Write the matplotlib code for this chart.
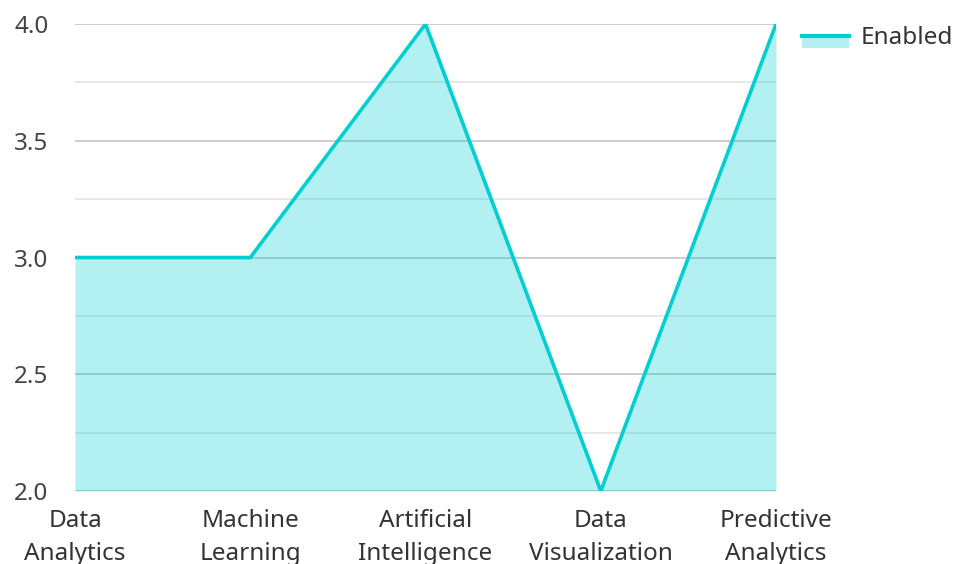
import matplotlib
matplotlib.use("Agg")
import matplotlib.pyplot as plt
from matplotlib.lines import Line2D
from matplotlib.patches import Rectangle
from matplotlib.legend_handler import HandlerBase
from matplotlib.ticker import MultipleLocator

plt.rcParams['font.family'] = ['Noto Sans', 'DejaVu Sans']

categories = ["Data\nAnalytics", "Machine\nLearning", "Artificial\nIntelligence",
              "Data\nVisualization", "Predictive\nAnalytics"]
enabled = [3, 3, 4, 2, 4]

line_color = "#00CED1"
x = list(range(len(categories)))


class AreaHandler(HandlerBase):
    # line on top, light fill hanging below it
    def create_artists(self, legend, orig_handle, xdescent, ydescent,
                       width, height, fontsize, trans):
        yc = height / 2 - ydescent
        rect = Rectangle((-xdescent, yc - 0.72 * height), width, 0.85 * height,
                         facecolor=line_color, alpha=0.3, linewidth=0, transform=trans)
        ln = Line2D([-xdescent, -xdescent + width], [yc, yc], color=line_color,
                    linewidth=3, transform=trans)
        return [rect, ln]


fig = plt.figure(figsize=(9.57, 5.64), dpi=100)
ax = fig.add_axes([0.0784, 0.1294, 0.7325, 0.828])

ax.fill_between(x, enabled, 2.0, color=line_color, alpha=0.3, linewidth=0, zorder=2)
area_line, = ax.plot(x, enabled, color=line_color, linewidth=2.6, zorder=3,
                     solid_joinstyle="miter")

ax.set_xlim(0, len(categories) - 1)
ax.set_ylim(2.0, 4.0)
ax.yaxis.set_major_locator(MultipleLocator(0.5))
ax.yaxis.set_minor_locator(MultipleLocator(0.25))
ax.grid(axis='y', which='major', color="#c8c8c8", linewidth=1.3, zorder=1)
ax.grid(axis='y', which='minor', color="#e6e6e6", linewidth=1.3, zorder=1)

ax.set_xticks(x)
ax.set_xticklabels(categories, fontsize=17.5, color="#333333", linespacing=1.5)
ax.tick_params(axis='x', length=0, pad=13)
ax.tick_params(axis='y', which='both', length=0, pad=19, labelsize=17.5, labelcolor="#444444")
ax.set_yticklabels([f"{v:.1f}" for v in ax.get_yticks()])

for s in ax.spines.values():
    s.set_visible(False)

leg = ax.legend([area_line], ["Enabled"], loc="upper left", bbox_to_anchor=(1.037, 0.995),
                frameon=False, fontsize=17.5, borderpad=0, borderaxespad=0,
                handlelength=1.95, handletextpad=0.45,
                handler_map={Line2D: AreaHandler()})
for t in leg.get_texts():
    t.set_color("#333333")

fig.savefig("out.png", dpi=100)
